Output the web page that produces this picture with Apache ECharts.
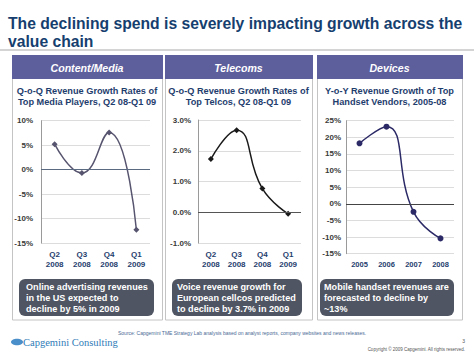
<!DOCTYPE html>
<html>
<head>
<meta charset="utf-8">
<script src="https://cdn.jsdelivr.net/npm/echarts@6/dist/echarts.min.js"></script>
<style>
html,body{margin:0;padding:0;background:#fff;}
#c{width:474px;height:355px;}
</style>
</head>
<body>
<div id="c"></div>
<script>
// ---- Data ----
const mediaCats = ['Q2\n2008', 'Q3\n2008', 'Q4\n2008', 'Q1\n2009'];
const mediaVals = [5.2, -0.7, 7.6, -12.3];
const telcoCats = ['Q2\n2008', 'Q3\n2008', 'Q4\n2008', 'Q1\n2009'];
const telcoVals = [1.73, 2.67, 0.77, -0.05];
const deviceCats = ['2005', '2006', '2007', '2008'];
const deviceVals = [18.2, 23.2, -2.4, -10.4];

const panelHeaders = ['Content/Media', 'Telecoms', 'Devices'];
const panelTitles = [
  'Q-o-Q Revenue Growth Rates of\nTop Media Players, Q2 08-Q1 09',
  'Q-o-Q Revenue Growth Rates of\nTop Telcos, Q2 08-Q1 09',
  'Y-o-Y Revenue Growth of Top\nHandset Vendors, 2005-08'
];
const callouts = [
  'Online advertising revenues\nin the US expected to\ndecline by 5% in 2009',
  'Voice revenue growth for\nEuropean cellcos predicted\nto decline by 3.7% in 2009',
  'Mobile handset revenues are\nforecasted to decline by\n~13%'
];
const mainTitle = 'The declining spend is severely impacting growth across the\nvalue chain';
const sourceText = 'Source: Capgemini TME Strategy Lab analysis based on analyst reports, company websites and news releases.';
const copyrightText = 'Copyright \u00a9 2009 Capgemini. All rights reserved.';

// ---- Layout ----
const FONT = 'Arial, "Liberation Sans", sans-serif';
const panels = [
  {x: 12, w: 150},
  {x: 165, w: 147},
  {x: 317, w: 145}
];
const grids = [
  {left: 41, top: 120.7, width: 109, height: 122.3},
  {left: 198, top: 120, width: 103, height: 123},
  {left: 346, top: 120.7, width: 108, height: 133}
];
const boxes = [
  {x: 19, w: 135, tx: 26},
  {x: 172, w: 130, tx: 177},
  {x: 320, w: 134, tx: 324}
];

const chart = echarts.init(document.getElementById('c'), null, {renderer: 'svg'});

const graphics = [];
graphics.push({type: 'rect', shape: {x: 0, y: 49, width: 474, height: 2}, style: {fill: '#d4d4d4'}, z: 0});
graphics.push({type: 'text', x: 8, y: 14, style: {text: mainTitle, font: 'bold 15.7px ' + FONT, fill: '#163f6f', lineHeight: 18.5, textAlign: 'left', align: 'left'}});
panels.forEach((p, i) => {
  graphics.push({type: 'rect', shape: {x: p.x + 0.5, y: 55.5, width: p.w, height: 264.5}, style: {fill: '#fff', stroke: '#c4c4c4', lineWidth: 1}, z: 0});
  graphics.push({type: 'rect', shape: {x: p.x, y: 55, width: p.w + 1, height: 24}, style: {fill: '#5d5e9c'}, z: 1});
  graphics.push({type: 'text', x: p.x + p.w / 2, y: 67.5, style: {text: panelHeaders[i], font: 'italic bold 10.6px ' + FONT, fill: '#fff', textAlign: 'center', align: 'center', textVerticalAlign: 'middle', verticalAlign: 'middle'}, z: 2});
  graphics.push({type: 'text', x: p.x + p.w / 2, y: 86, style: {text: panelTitles[i], font: 'bold 9.2px ' + FONT, fill: '#1f3e6e', lineHeight: 10.5, textAlign: 'center', align: 'center'}, z: 2});
  const b = boxes[i];
  graphics.push({type: 'rect', shape: {x: b.x, y: 279, width: b.w, height: 37, r: 6}, style: {fill: '#4f5562'}, z: 1});
  graphics.push({type: 'text', x: b.tx, y: 281, style: {text: callouts[i], font: 'bold 9.1px ' + FONT, fill: '#fff', lineHeight: 11.3, textAlign: 'left', align: 'left'}, z: 2});
});
// footer
graphics.push({type: 'ellipse', shape: {cx: 17, cy: 342, rx: 6, ry: 3.2}, style: {fill: '#4a8fc9'}});
graphics.push({type: 'text', x: 23, y: 342, style: {text: 'Capgemini Consulting', font: '10.5px "Liberation Serif", "DejaVu Serif", serif', fill: '#2f7cb8', textVerticalAlign: 'middle', verticalAlign: 'middle'}});
graphics.push({type: 'text', x: 118, y: 333, style: {text: sourceText, font: '5px ' + FONT, fill: '#4a6a95', textVerticalAlign: 'middle', verticalAlign: 'middle'}});
graphics.push({type: 'text', x: 465, y: 341, style: {text: '3', font: '5px ' + FONT, fill: '#555', textAlign: 'right', align: 'right', textVerticalAlign: 'middle', verticalAlign: 'middle'}});
graphics.push({type: 'text', x: 465, y: 349, style: {text: copyrightText, font: '4.5px ' + FONT, fill: '#555', textAlign: 'right', align: 'right', textVerticalAlign: 'middle', verticalAlign: 'middle'}});

function xAxisFor(i, cats, fontSize, margin) {
  return {
    type: 'category', gridIndex: i, data: cats, boundaryGap: true,
    axisLine: {show: false}, axisTick: {show: false},
    axisLabel: {fontFamily: FONT, fontWeight: 'bold', fontSize: fontSize, color: '#1f3e6e', lineHeight: 10, margin: margin, interval: 0}
  };
}
function yAxisFor(i, min, max, interval, fmt, margin) {
  return {
    type: 'value', gridIndex: i, min: min, max: max, interval: interval,
    axisLine: {show: true, lineStyle: {color: '#9a9a9a', width: 1}},
    axisTick: {show: false},
    splitLine: {show: true, lineStyle: {color: '#dcdcdc', width: 1}},
    axisLabel: {fontFamily: FONT, fontWeight: 'bold', fontSize: 8, color: '#3a3a3a', margin: margin, formatter: fmt}
  };
}
function seriesFor(i, vals, color, symbol, zeroColor) {
  return {
    type: 'line', xAxisIndex: i, yAxisIndex: i, data: vals, smooth: 0.5,
    symbol: symbol, symbolSize: 6,
    lineStyle: {color: color, width: 1.5}, itemStyle: {color: color},
    markLine: {silent: true, symbol: ['none', 'none'], label: {show: false},
      lineStyle: {color: zeroColor, width: 1, type: 'solid'}, data: [{yAxis: 0}]},
    z: 3
  };
}

chart.setOption({
  animation: false,
  backgroundColor: '#fff',
  graphic: {elements: graphics},
  grid: grids,
  xAxis: [
    xAxisFor(0, mediaCats, 8, 6),
    xAxisFor(1, telcoCats, 8, 6),
    xAxisFor(2, deviceCats, 7.5, 6)
  ],
  yAxis: [
    yAxisFor(0, -15, 10, 5, v => v + '%', 8),
    yAxisFor(1, -1, 3, 1, v => v.toFixed(1) + '%', 7),
    yAxisFor(2, -15, 25, 5, v => v + '%', 5)
  ],
  series: [
    seriesFor(0, mediaVals, '#56546e', 'diamond', '#5a6a80'),
    seriesFor(1, telcoVals, '#1a1a1a', 'diamond', '#555555'),
    seriesFor(2, deviceVals, '#2b2966', 'circle', '#444444')
  ]
});
</script>
</body>
</html>
